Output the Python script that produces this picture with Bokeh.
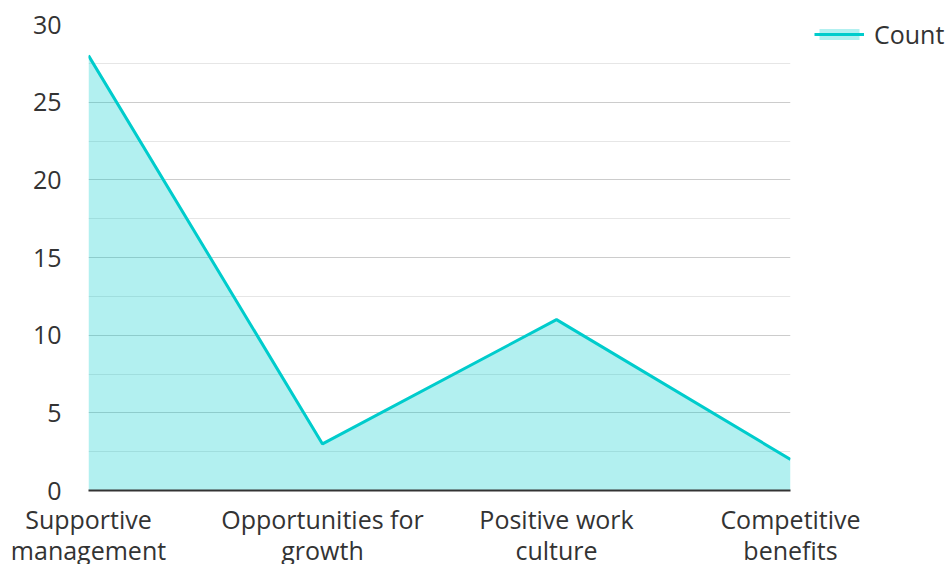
from bokeh.plotting import figure
from bokeh.models import Range1d, FixedTicker, Legend, LegendItem, ColumnDataSource
from bokeh.embed import file_html
from bokeh.resources import INLINE

categories = ["Supportive management", "Opportunities for growth", "Positive work culture", "Competitive benefits"]
tick_labels = ["Supportive\nmanagement", "Opportunities for\ngrowth", "Positive work\nculture", "Competitive\nbenefits"]
counts = [28, 3, 11, 2]
y_ticks = [0, 5, 10, 15, 20, 25, 30]

xs = list(range(len(categories)))
src = ColumnDataSource(dict(x=xs, y=counts, base=[0] * len(counts)))

FONT = "Open Sans"
TXT = "#333333"

p = figure(frame_width=702, frame_height=466, output_backend="svg", toolbar_location=None,
           x_range=Range1d(0, len(categories) - 1), y_range=Range1d(0, 30),
           min_border_left=88, min_border_right=0, min_border_top=24, min_border_bottom=66)
p.outline_line_color = None

area = p.varea(x="x", y1="base", y2="y", source=src, fill_color="#00cccc", fill_alpha=0.3)
line = p.line(x="x", y="y", source=src, line_color="#00cccc", line_width=3)

p.xgrid.visible = False
p.ygrid.grid_line_color = "#cccccc"
p.ygrid.grid_line_width = 1
p.ygrid.minor_grid_line_color = "#e6e6e6"
p.ygrid.minor_grid_line_width = 1

p.yaxis.ticker = FixedTicker(ticks=y_ticks, minor_ticks=[2.5 + 5 * i for i in range(6)])
p.yaxis.axis_line_color = None
p.yaxis.major_tick_line_color = None
p.yaxis.minor_tick_line_color = None
p.yaxis.major_label_standoff = 21
p.yaxis.major_label_text_font = FONT
p.yaxis.major_label_text_font_size = "25px"
p.yaxis.major_label_text_color = TXT

p.xaxis.ticker = FixedTicker(ticks=xs)
p.xaxis.major_label_overrides = {i: t for i, t in zip(xs, tick_labels)}
p.xaxis.axis_line_color = "#333333"
p.xaxis.axis_line_width = 2
p.xaxis.major_tick_line_color = None
p.xaxis.minor_tick_line_color = None
p.xaxis.major_label_standoff = 5
p.xaxis.major_label_text_font = FONT
p.xaxis.major_label_text_font_size = "25px"
p.xaxis.major_label_text_color = TXT
p.xaxis.major_label_text_line_height = 0.92

legend = Legend(items=[LegendItem(label="Count", renderers=[area, line])],
                orientation="vertical",
                glyph_width=50, glyph_height=14, label_standoff=10,
                label_text_font=FONT, label_text_font_size="25px", label_text_color=TXT,
                padding=0, margin=0, border_line_color=None, background_fill_alpha=0,
                spacing=0)
p.add_layout(legend, "right")
legend.location = (24, 439)

open("out.html", "w").write(file_html(p, INLINE))
